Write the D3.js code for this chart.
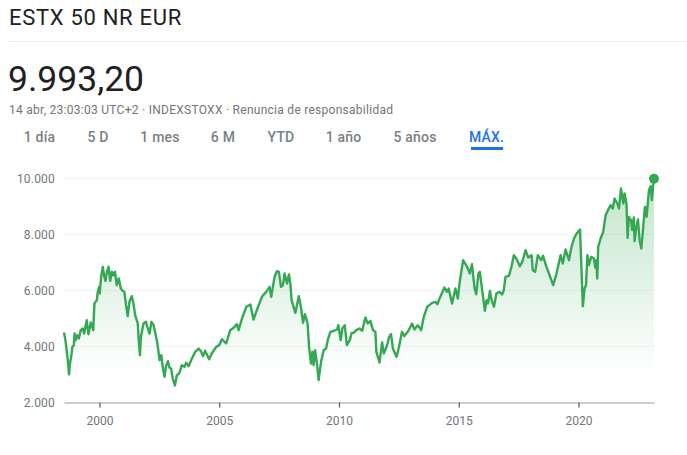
<!DOCTYPE html>
<html>
<head>
<meta charset="utf-8">
<script src="https://cdn.jsdelivr.net/npm/d3@7"></script>
<style>
  html, body { margin: 0; background: #fff; }
  svg { display: block; }
  text { font-family: Roboto, sans-serif; }
</style>
</head>
<body>
<svg id="chart" width="687" height="455"></svg>
<script>
// Values
var years = [
  1998.52,1998.58,1998.64,1998.69,1998.73,1998.77,1998.82,1998.87,1998.93,1998.96,1999.01,1999.07,1999.14,1999.22,1999.30,1999.36,1999.47,1999.54,1999.64,1999.74,1999.79,1999.89,1999.93,1999.99,
  2000.01,2000.07,2000.14,2000.19,2000.25,2000.31,2000.38,2000.45,2000.52,2000.58,2000.65,2000.72,2000.81,2000.89,2000.97,2001.04,2001.11,2001.18,2001.25,2001.35,2001.42,2001.49,2001.60,2001.64,2001.69,2001.73,2001.84,2001.94,
  2002.02,2002.09,2002.17,2002.26,2002.35,2002.42,2002.51,2002.58,2002.65,2002.72,2002.77,2002.86,2002.92,2002.99,2003.06,2003.15,2003.23,2003.33,2003.44,2003.55,2003.62,2003.72,2003.86,
  2004.00,2004.14,2004.25,2004.32,2004.41,2004.58,2004.69,2004.87,2005.00,2005.11,2005.29,2005.46,2005.60,2005.74,2005.81,2005.95,2006.13,2006.30,2006.43,2006.57,2006.78,2006.96,
  2007.10,2007.17,2007.31,2007.41,2007.49,2007.58,2007.66,2007.73,2007.83,2007.91,2007.97,2008.02,2008.18,2008.32,2008.41,2008.50,2008.58,2008.69,2008.75,2008.83,2008.89,2008.94,
  2009.00,2009.08,2009.15,2009.25,2009.36,2009.46,2009.53,2009.64,2009.78,2009.92,2009.97,2010.07,2010.14,2010.24,2010.33,2010.45,2010.53,2010.61,2010.72,2010.86,2010.97,
  2011.10,2011.20,2011.31,2011.42,2011.52,2011.56,2011.69,2011.80,2011.87,2012.01,2012.09,2012.17,2012.25,2012.40,2012.49,2012.63,2012.73,2012.91,
  2013.05,2013.15,2013.29,2013.43,2013.54,2013.68,2013.89,2014.03,2014.10,2014.23,2014.40,2014.51,2014.58,2014.72,2014.86,2014.96,
  2015.03,2015.18,2015.35,2015.46,2015.55,2015.66,2015.73,2015.82,2015.88,2015.96,2016.09,2016.16,2016.22,2016.30,2016.37,2016.47,2016.57,2016.70,2016.81,2016.88,2016.95,
  2017.09,2017.20,2017.30,2017.40,2017.55,2017.65,2017.79,2017.90,2018.04,2018.09,2018.19,2018.30,2018.44,2018.52,2018.66,2018.79,2018.94,
  2019.08,2019.25,2019.34,2019.46,2019.60,2019.70,2019.81,2019.92,2020.06,2020.11,2020.18,2020.25,2020.31,2020.37,2020.43,2020.53,2020.64,2020.70,2020.74,2020.78,2020.82,2020.92,
  2021.03,2021.13,2021.23,2021.34,2021.43,2021.50,2021.62,2021.69,2021.77,2021.87,2021.92,2022.00,2022.05,2022.10,2022.19,2022.24,2022.31,2022.34,2022.40,2022.48,2022.55,2022.62,2022.70,2022.77,2022.84,2022.94,
  2023.01,2023.06,2023.12,2023.15
];
var values = [
  4500,4226,3810,3393,3000,3393,3630,3988,4048,4464,4226,4405,4286,4583,4643,4464,4940,4440,4857,4583,5536,5655,5952,6131,
  5893,6488,6845,6548,6345,6667,6845,6345,6667,6548,6667,6190,6429,6071,5988,5952,5476,5083,5595,5798,5536,5119,4821,4226,3690,4345,4821,4881,
  4643,4464,4881,4762,4405,4107,3512,3690,3214,2917,3274,3476,3250,3214,2857,2607,2976,3036,3333,3274,3417,3298,3571,
  3810,3929,3810,3655,3845,3548,3750,3988,4048,4262,4107,4583,4667,4798,4583,5000,5417,5500,4964,5298,5774,5952,
  6131,5774,6488,6690,6667,6131,6190,6607,6250,6571,6250,5655,5202,5798,5417,4845,5155,4821,3988,3393,3810,3333,
  3869,3393,2798,3452,3869,3929,4226,4524,4560,4607,4762,4226,4643,4762,4048,4226,4488,4488,4583,4643,4560,
  5036,4821,4917,4583,4524,3810,3429,4143,3750,4048,4345,4440,3929,3631,3929,4524,4369,4583,
  4821,4607,4762,4583,5060,5417,5560,5595,5512,5774,6107,5952,6071,5536,6071,5714,
  6250,7083,6845,6607,6940,6071,5869,6607,6667,6131,5274,5655,5536,5988,5655,5417,5893,5952,5857,6012,6488,
  6524,6845,7262,7143,6869,7024,7440,7179,7262,6726,6667,7262,7083,7238,6845,6548,6190,
  6607,7262,6964,7464,7083,7536,7857,8036,8179,7083,5440,6071,6190,7262,6905,7202,7143,6821,7083,6429,7560,7857,
  8095,8690,8869,9048,8929,9286,9107,8929,9643,9107,9464,9107,7881,8631,8512,8155,8607,7762,8200,8536,7798,7500,8274,8988,8631,9583,
  9726,9226,9798,9993
];
var xTicks = [2000, 2005, 2010, 2015, 2020];
var yTicks = [2000, 4000, 6000, 8000, 10000];
var tabNames = ["1 día", "5 D", "1 mes", "6 M", "YTD", "1 año", "5 años", "MÁX."];
var tabCenters = [39.5, 98, 160, 223, 281, 343.5, 415, 486.5];

var svg = d3.select("#chart");

// Scales
var x = d3.scaleLinear().domain([1998.52, 2023.15]).range([64, 654]);
var y = d3.scaleLinear().domain([2000, 10000]).range([402.5, 178.5]);

// Header
svg.append("text").attr("x", 9).attr("y", 25).attr("font-size", 22).attr("letter-spacing", 0.7).attr("fill", "#202124")
  .text("ESTX 50 NR EUR");
svg.append("line").attr("x1", 9).attr("x2", 687).attr("y1", 41.5).attr("y2", 41.5)
  .attr("stroke", "#ebebeb");
svg.append("text").attr("x", 8).attr("y", 91).attr("font-size", 35.5).attr("fill", "#202124")
  .text("9.993,20");
svg.append("text").attr("x", 9).attr("y", 114).attr("font-size", 12).attr("letter-spacing", 0.27).attr("fill", "#70757a")
  .text("14 abr, 23:03:03 UTC+2 · INDEXSTOXX · Renuncia de responsabilidad");

// Range tabs
svg.selectAll(".tab").data(tabNames).enter().append("text")
  .attr("class", "tab")
  .attr("x", (d, i) => tabCenters[i])
  .attr("y", 142)
  .attr("text-anchor", "middle")
  .attr("font-size", 14)
  .attr("font-weight", 500)
  .attr("letter-spacing", 0.2)
  .attr("fill", d => d == "MÁX." ? "#1a73e8" : "#7a7f85")
  .text(d => d);
svg.append("rect").attr("x", 471).attr("y", 147).attr("width", 32).attr("height", 3)
  .attr("fill", "#1a73e8");

// Area gradient
var grad = svg.append("defs").append("linearGradient")
  .attr("id", "areaFill").attr("gradientUnits", "userSpaceOnUse")
  .attr("x1", 0).attr("x2", 0).attr("y1", y(10000)).attr("y2", y(3000));
grad.append("stop").attr("offset", 0).attr("stop-color", "#34a853").attr("stop-opacity", 0.3);
grad.append("stop").attr("offset", 1).attr("stop-color", "#34a853").attr("stop-opacity", 0);

// Gridlines
svg.selectAll(".grid").data(yTicks.slice(1)).enter().append("line")
  .attr("class", "grid")
  .attr("x1", x.range()[0]).attr("x2", x.range()[1])
  .attr("y1", d => y(d)).attr("y2", d => y(d))
  .attr("stroke", "#f1f3f4");

// Area and line
var area = d3.area().x((d, i) => x(years[i])).y0(y(2000)).y1(d => y(d));
var line = d3.line().x((d, i) => x(years[i])).y(d => y(d));
svg.append("path").attr("d", area(values)).attr("fill", "url(#areaFill)");
svg.append("path").attr("d", line(values)).attr("fill", "none")
  .attr("stroke", "#34a853").attr("stroke-width", 2.4).attr("stroke-linejoin", "round");
svg.append("circle").attr("cx", x(years[years.length - 1])).attr("cy", y(values[values.length - 1]))
  .attr("r", 5).attr("fill", "#34a853");

// Axes
var xAxis = svg.append("g").attr("transform", "translate(0," + y(2000) + ")")
  .call(d3.axisBottom(x).tickValues(xTicks).tickFormat(d3.format("d")).tickSize(5).tickPadding(9).tickSizeOuter(0));
xAxis.select(".domain").attr("stroke", "#9aa0a6");
xAxis.selectAll(".tick line").attr("stroke", "#5f6368").attr("stroke-width", 1.3);
xAxis.selectAll("text").attr("font-size", 12).attr("fill", "#70757a")
  .style("font-family", "Roboto, sans-serif");

var yAxis = svg.append("g").attr("transform", "translate(55,0)")
  .call(d3.axisLeft(y).tickValues(yTicks).tickFormat(d => d3.format(",")(d).replace(",", ".")).tickSize(0).tickPadding(0));
yAxis.select(".domain").remove();
yAxis.selectAll("text").attr("font-size", 12).attr("letter-spacing", 0.2).attr("fill", "#70757a")
  .style("font-family", "Roboto, sans-serif");
</script>
</body>
</html>
